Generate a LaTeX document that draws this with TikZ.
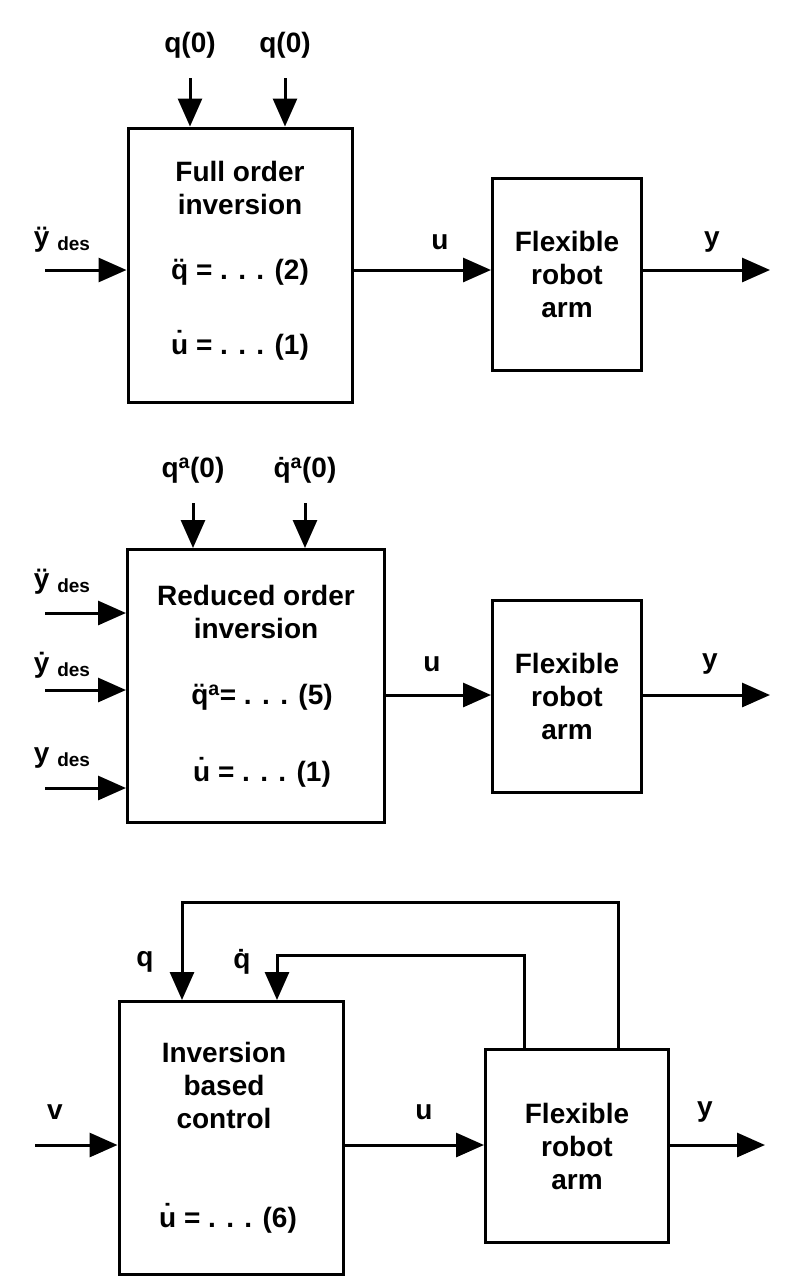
\documentclass[tikz,border=0pt]{standalone}
\usepackage{fontspec}
\setmainfont{Liberation Sans}
\usetikzlibrary{arrows.meta}
\begin{document}
\begin{tikzpicture}[x=1pt,y=-1pt,
  blk/.style={draw,line width=3pt,inner sep=0pt},
  arr/.style={line width=3pt,-{Triangle[length=28pt,width=24pt]}},
  ln/.style={line width=3pt},
  lab/.style={font=\fontsize{28}{33}\selectfont\bfseries,align=center},
  lbl/.style={font=\fontsize{28}{33}\selectfont\bfseries}]
\newcommand{\dsub}{\raisebox{-4pt}{\fontsize{19}{20}\selectfont des}}
\useasboundingbox (0,0) rectangle (795,1283);
% block 1
\node[blk,minimum width=224pt,minimum height=274pt] (A) at (240,265) {};
\node[lab] at (240,188) {Full order\\inversion};
\node[lab] at (240,272) {\"q = . . . (2)};
\node[lab] at (240,345) {\.u = . . . (1)};
\node[blk,minimum width=149pt,minimum height=192pt,lab] (B) at (567,274) {Flexible\\robot\\arm};
\node[lbl] (qa) at (190,45) {q(0)};
\node[lbl] (qb) at (285,45) {q(0)};
\coordinate (qa1) at (190,78); \coordinate (qb1) at (285,78);
\draw[arr] (qa1) -- (qa1|-A.north);
\draw[arr] (qb1) -- (qb1|-A.north);
\coordinate (in1) at (45,270);
\draw[arr] (in1) -- (A.west|-in1);
\node[lbl] (l1) at (62,240) {\"y \dsub};
\draw[arr] (A.east|-in1) -- (B.west|-in1);
\node[lbl] (u1) at (440,242) {u};
\coordinate (o1) at (770,270);
\draw[arr] (B.east|-in1) -- (o1);
\node[lbl] (y1) at (712,242) {y};
% block 2
\node[blk,minimum width=257pt,minimum height=273pt] (C) at (256,686) {};
\node[lab] at (256,612) {Reduced order\\inversion};
\node[lab] at (262,697) {\"q\textsuperscript{a}= . . . (5)};
\node[lab] at (262,772) {\.u = . . . (1)};
\node[blk,minimum width=149pt,minimum height=192pt,lab] (D) at (567,696) {Flexible\\robot\\arm};
\node[lbl] (qc) at (193,470) {q\textsuperscript{a}(0)};
\node[lbl] (qd) at (305,470) {\.q\textsuperscript{a}(0)};
\coordinate (qc1) at (193,503); \coordinate (qd1) at (305,503);
\draw[arr] (qc1) -- (qc1|-C.north);
\draw[arr] (qd1) -- (qd1|-C.north);
\coordinate (in2) at (45,613); \coordinate (in3) at (45,690); \coordinate (in4) at (45,788);
\draw[arr] (in2) -- (C.west|-in2);
\draw[arr] (in3) -- (C.west|-in3);
\draw[arr] (in4) -- (C.west|-in4);
\node[lbl] at (62,582) {\"y \dsub};
\node[lbl] at (62,665) {\.y \dsub};
\node[lbl] at (62,758) {y \dsub};
\coordinate (m2) at (0,695);
\draw[arr] (C.east|-m2) -- (D.west|-m2);
\node[lbl] at (432,664) {u};
\coordinate (o2) at (770,695);
\draw[arr] (D.east|-m2) -- (o2);
\node[lbl] at (710,664) {y};
% block 3
\node[blk,minimum width=224pt,minimum height=273pt] (E) at (231,1138) {};
\node[lab] at (224,1085) {Inversion\\based\\control};
\node[lab] at (228,1218) {\.u = . . . (6)};
\node[blk,minimum width=183pt,minimum height=193pt,lab] (F) at (577,1146) {Flexible\\robot\\arm};
\coordinate (m3) at (0,1145);
\coordinate (in5) at (35,1145);
\draw[arr] (in5) -- (E.west|-m3);
\node[lbl] at (55,1112) {v};
\draw[arr] (E.east|-m3) -- (F.west|-m3);
\node[lbl] at (424,1112) {u};
\coordinate (o3) at (765,1145);
\draw[arr] (F.east|-m3) -- (o3);
\node[lbl] at (705,1112) {y};
\coordinate (f1) at (618,902); \coordinate (f2) at (524,955);
\draw[ln,-{Triangle[length=28pt,width=24pt]}] (f1|-F.north) -- (f1) -| (182,0|-E.north);
\draw[ln,-{Triangle[length=28pt,width=24pt]}] (f2|-F.north) -- (f2) -| (277,0|-E.north);
\node[lbl] at (145,962) {q};
\node[lbl] at (242,962) {\.q};
\end{tikzpicture}
\end{document}
